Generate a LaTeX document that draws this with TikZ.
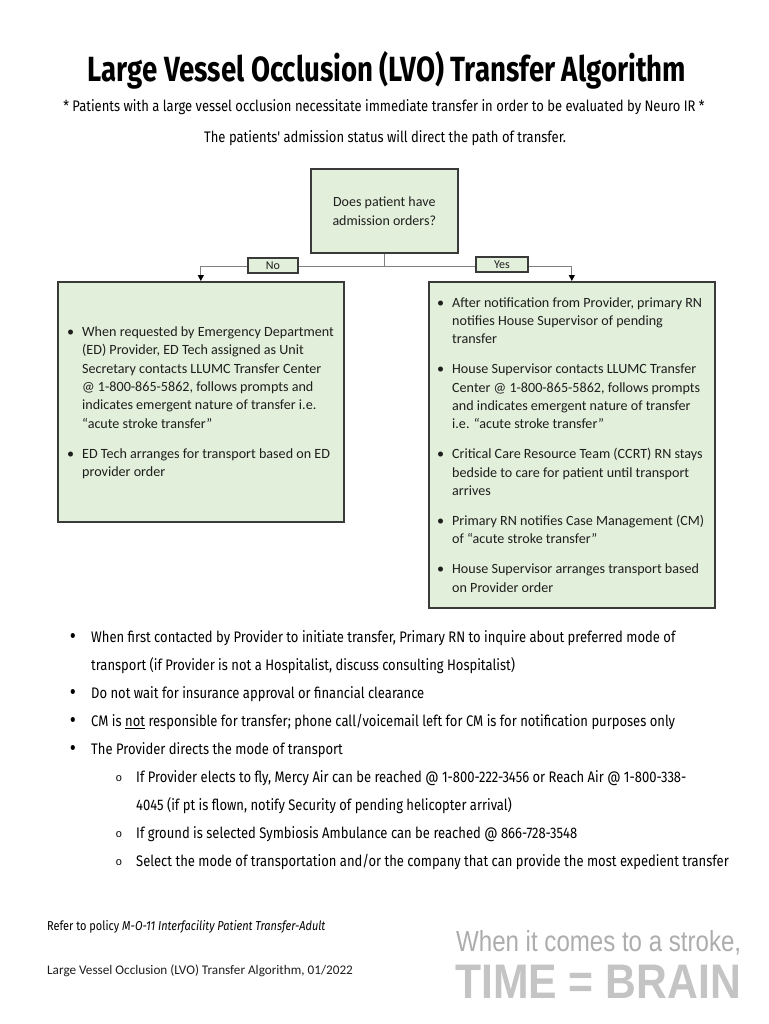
\documentclass[tikz,border=0pt]{standalone}
\usepackage{fontspec}
\setmainfont{Carlito}
\newfontfamily\dinfont[FakeStretch=0.85]{Fira Sans}
\newfontfamily\dintitle[FakeStretch=0.79]{Fira Sans}
\newfontfamily\helv[FakeStretch=0.83]{Liberation Sans}
\newfontfamily\helvb[FakeStretch=0.88]{Liberation Sans}
\newfontfamily\monofont{Liberation Mono}
\usetikzlibrary{arrows.meta}
\definecolor{boxgreen}{HTML}{E2EFDA}
\definecolor{boxline}{HTML}{3A3A3A}
\definecolor{connline}{HTML}{808080}
\definecolor{txt}{HTML}{1E1E1E}
\definecolor{lightgrey}{HTML}{ADADAD}
\definecolor{midgrey}{HTML}{C4C4C4}
\newcommand\bitem[1]{\par\noindent\hangindent=16pt\hangafter=1\makebox[16pt][l]{\hspace{1pt}•}#1\par}
\newcommand\bgap{\vspace{11.7pt}}
\tikzset{
  greenbox/.style={draw=boxline, line width=1.6pt, fill=boxgreen, inner sep=0pt},
  boxtxt/.style={inner sep=0pt, font=\fontsize{14.1}{18.3}\selectfont, text=txt, anchor=west},
  conn/.style={draw=connline, line width=1pt},
  arr/.style={conn, -{Triangle[width=6pt,length=6pt,color=black]}},
  lab/.style={draw=boxline, line width=1.2pt, fill=boxgreen, inner sep=0pt, font=\fontsize{12}{12}\selectfont, text=txt},
  dline/.style={inner sep=0pt, anchor=base west, font=\dinfont\fontsize{15.3}{15.3}\selectfont, text=black},
  dot/.style={inner sep=0pt, anchor=base, font=\dinfont\fontsize{22}{22}\selectfont},
  circ/.style={inner sep=0pt, anchor=base, font=\monofont\fontsize{11}{11}\selectfont}
}
\begin{document}
\begin{tikzpicture}[x=1pt,y=-1pt]
\useasboundingbox (0,0) rectangle (768,1024);
\fill[white] (0,0) rectangle (768,1024);

% title
\node[inner sep=0pt, anchor=base, font=\dintitle\bfseries\fontsize{35}{35}\selectfont] (title) at (387,82) {Large Vessel Occlusion (LVO) Transfer Algorithm};
\node[inner sep=0pt, anchor=base, font=\dinfont\fontsize{15.3}{15.3}\selectfont] (sub1) at (384,112) {* Patients with a large vessel occlusion necessitate immediate transfer in order to be evaluated by Neuro IR *};
\node[inner sep=0pt, anchor=base, font=\dinfont\fontsize{15.3}{15.3}\selectfont] (sub2) at (385,143) {The patients' admission status will direct the path of transfer.};

% decision
\node[greenbox, anchor=north west, minimum width=147pt, minimum height=84pt, align=center, font=\fontsize{14}{19}\selectfont, text=txt] (q) at (310,168) {Does patient have\\admission orders?};

% boxes
\node[greenbox, anchor=north west, minimum width=286pt, minimum height=240pt] (lb) at (57,281) {};
\node[greenbox, anchor=north west, minimum width=286pt, minimum height=326pt] (rb) at (428,281) {};

\node[boxtxt] (lbt) at ([xshift=9pt,yshift=-1pt]lb.west) {\begin{minipage}{300pt}\raggedright
\bitem{When requested by Emergency Department\newline(ED) Provider, ED Tech assigned as Unit\newline Secretary contacts LLUMC Transfer Center\newline @ 1-800-865-5862, follows prompts and\newline indicates emergent nature of transfer i.e.\newline ``acute stroke transfer''}
\bgap
\bitem{ED Tech arranges for transport based on ED\newline provider order}\end{minipage}};

\node[boxtxt] (rbt) at ([xshift=8pt,yshift=0pt]rb.west) {\begin{minipage}{300pt}\raggedright
\bitem{After notification from Provider, primary RN\newline notifies House Supervisor of pending\newline transfer}
\bgap
\bitem{House Supervisor contacts LLUMC Transfer\newline Center @ 1-800-865-5862, follows prompts\newline and indicates emergent nature of transfer\newline i.e. ``acute stroke transfer''}
\bgap
\bitem{Critical Care Resource Team (CCRT) RN stays\newline bedside to care for patient until transport\newline arrives}
\bgap
\bitem{Primary RN notifies Case Management (CM)\newline of ``acute stroke transfer''}
\bgap
\bitem{House Supervisor arranges transport based\newline on Provider order}\end{minipage}};

% connectors
\coordinate (j) at (q.south |- 0,266);
\draw[conn] (q.south) -- (j);
\draw[arr] (j) -| (lb.north);
\draw[arr] (j) -| (rb.north);
\node[lab, minimum width=50pt, minimum height=15pt] (no) at (273,265.5) {No};
\node[lab, minimum width=52pt, minimum height=15pt] (yes) at (502,264.5) {Yes};

% bottom bullets
\node[dot] (d1) at (73,643.5) {•};
\node[dline] (b1a) at (91,642.5) {When first contacted by Provider to initiate transfer, Primary RN to inquire about preferred mode of};
\node[dline] (b1b) at (91,670.5) {transport (if Provider is not a Hospitalist, discuss consulting Hospitalist)};
\node[dot] (d2) at (73,699.5) {•};
\node[dline] (b2) at (91,698.5) {Do not wait for insurance approval or financial clearance};
\node[dot] (d3) at (73,727.5) {•};
\node[dline] (b3) at (91,726.5) {CM is \underline{not} responsible for transfer; phone call/voicemail left for CM is for notification purposes only};
\node[dot] (d4) at (73,755.5) {•};
\node[dline] (b4) at (91,754.5) {The Provider directs the mode of transport};
\node[circ] (o1) at (119,781) {o};
\node[dline] (s1a) at (136,782.5) {If Provider elects to fly, Mercy Air can be reached @ 1-800-222-3456 or Reach Air @ 1-800-338-};
\node[dline] (s1b) at (136,810.5) {4045 (if pt is flown, notify Security of pending helicopter arrival)};
\node[circ] (o2) at (119,837) {o};
\node[dline] (s2) at (136,838.5) {If ground is selected Symbiosis Ambulance can be reached @ 866-728-3548};
\node[circ] (o3) at (119,865) {o};
\node[dline] (s3) at (136,866.5) {Select the mode of transportation and/or the company that can provide the most expedient transfer};

% footer
\node[inner sep=0pt, anchor=base west, font=\dinfont\fontsize{12.9}{12.9}\selectfont] (ref) at (47,930) {Refer to policy \textit{M-O-11 Interfacility Patient Transfer-Adult}};
\node[inner sep=0pt, anchor=base west, font=\fontsize{13.2}{13.2}\selectfont, text=txt] (foot) at (47,974) {Large Vessel Occlusion (LVO) Transfer Algorithm, 01/2022};
\node[inner sep=0pt, anchor=base west, font=\helv\fontsize{29}{29}\selectfont, text=lightgrey] (when) at (456,951) {When it comes to a stroke,};
\node[inner sep=0pt, anchor=base west, font=\helvb\bfseries\fontsize{48.5}{48.5}\selectfont, text=midgrey] (tb) at (455,998) {TIME = BRAIN};
\end{tikzpicture}
\end{document}
